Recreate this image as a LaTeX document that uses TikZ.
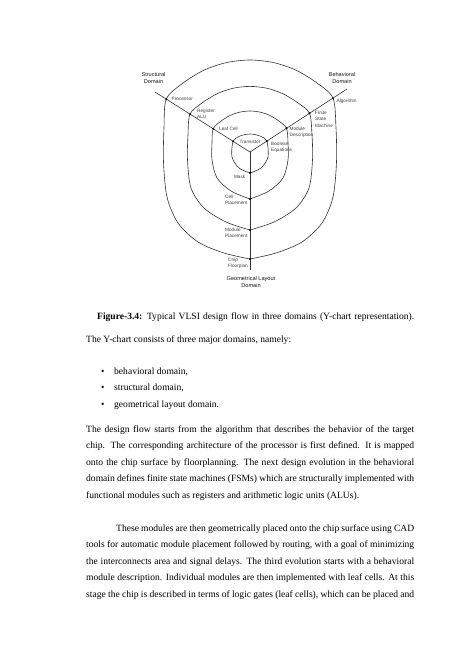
\documentclass[tikz,border=0pt]{standalone}
\usepackage{fontspec}
\setmainfont{Liberation Serif}
\setsansfont{Liberation Sans}
\begin{document}
\begin{tikzpicture}[x=1pt,y=-1pt,
  ring/.style={draw=black!80, line width=0.6pt},
  axisline/.style={draw=black!80, line width=0.6pt},
  dotnode/.style={circle, fill=black, inner sep=0pt, minimum size=2.2pt},
  lbl/.style={font=\fontsize{4.7}{6.2}\selectfont\sffamily, text=black!75, inner sep=0pt, align=left},
  dom/.style={font=\fontsize{5.6}{6.8}\selectfont\sffamily, text=black!90, inner sep=0pt, align=center},
  body/.style={font=\fontsize{9.56}{16.5}\selectfont, anchor=base west, inner sep=0pt}
]
\useasboundingbox[fill=white] (0,0) rectangle (474,670);

% axes
\coordinate (J) at (250,152);
\coordinate (Se) at (155,92);
\coordinate (Be) at (347,89);
\coordinate (Ge) at (250,270);
\draw[axisline] (J) -- (Se);
\draw[axisline] (J) -- (Be);
\draw[axisline] (J) -- (Ge);

% rings
\draw[ring] plot[smooth] coordinates {(250,259) (224,253) (198,242) (178,223) (167,197) (163.5,162) (164,128) (166.3,99.1) (182.9,83.1) (203.9,70.2) (226.4,62.6) (250,60) (273.6,62.6) (296.1,70.2) (317.1,83.1) (333,98.1) (336,128) (336.5,162) (333,197) (322,223) (302,242) (276,253) (250,259)};
\draw[ring] plot[smooth] coordinates {(250,230) (226,222) (204,208) (191,188) (187.5,160) (188,135) (190,114.1) (202.2,102.8) (217.2,93.7) (233.2,88.2) (250,86.4) (266.8,88.2) (282.8,93.7) (297.8,102.8) (309.5,113.3) (312,135) (312.5,160) (309,188) (296,208) (274,222) (250,230)};
\draw[ring] plot[smooth] coordinates {(250,199) (231,191) (217,178) (212,160) (212,143) (213.2,128.8) (221.4,120.8) (230.4,115.3) (240,112.1) (250,111) (260,112.1) (269.6,115.3) (278.6,120.8) (286.5,128.3) (288,143) (288,160) (283,178) (269,191) (250,199)};
\draw[ring] plot[smooth] coordinates {(250,173) (239,168) (232,157) (233.1,141.3) (240,136) (250,134) (260,136) (266.8,141.1) (268,157) (261,168) (250,173)};

% dots
\node[dotnode] (S1) at (233.1,141.3) {};
\node[dotnode] (S2) at (213.2,128.8) {};
\node[dotnode] (S3) at (190.0,114.1) {};
\node[dotnode] (S4) at (166.3,99.1) {};
\node[dotnode] (B1) at (266.8,141.1) {};
\node[dotnode] (B2) at (286.5,128.3) {};
\node[dotnode] (B3) at (309.5,113.3) {};
\node[dotnode] (B4) at (333.0,98.1) {};
\node[dotnode] (G1) at (250,173) {};
\node[dotnode] (G2) at (250,199) {};
\node[dotnode] (G3) at (250,230) {};
\node[dotnode] (G4) at (250,259) {};

% labels
\node[lbl, anchor=base west] (tProc) at (171.5,100) {Processor};
\node[lbl, anchor=north west] (tReg) at (197,108.5) {Register\\ALU};
\node[lbl, anchor=base west] (tLeaf) at (219,130.5) {Leaf Cell};
\node[lbl, anchor=base west] (tTran) at (239.5,143.5) {Transistor};
\node[lbl, anchor=north west] (tBool) at (271,141.5) {Boolean\\Equations};
\node[lbl, anchor=north west] (tModD) at (289.5,127) {Module\\Description};
\node[lbl, anchor=north west] (tFSM) at (315,111) {Finite\\State\\Machine};
\node[lbl, anchor=base west] (tAlg) at (336.5,102.5) {Algorithm};
\node[lbl, anchor=base east] (tMask) at (245.5,178.5) {Mask};
\node[lbl, anchor=north west] (tCell) at (225,194.5) {Cell\\Placement};
\node[lbl, anchor=north west] (tModP) at (225,228) {Module\\Placement};
\node[lbl, anchor=north west] (tChip) at (228,258) {Chip\\Floorplan};

\node[dom] (dS) at (153.5,78) {Structural\\Domain};
\node[dom] (dB) at (342,78) {Behavioral\\Domain};
\node[dom] (dG) at (251,282) {Geometrical Layout\\Domain};

% text
\node[body] (cap) at (97,319) {\makebox[317pt][s]{\textbf{Figure-3.4:} Typical VLSI design flow in three domains (Y-chart representation).}};
\node[body] (intro) at (86,342) {The Y-chart consists of three major domains, namely:};
\node[body] (bd1) at (101,374) {\textbullet};
\node[body] (bt1) at (114,374) {behavioral domain,};
\node[body] (bd2) at (101,390.5) {\textbullet};
\node[body] (bt2) at (114,390.5) {structural domain,};
\node[body] (bd3) at (101,407) {\textbullet};
\node[body] (bt3) at (114,407) {geometrical layout domain.};

\node[body] (p1a) at (86,432) {\makebox[328pt][s]{The design flow starts from the algorithm that describes the behavior of the target}};
\node[body] (p1b) at (86,448.5) {\makebox[328pt][s]{chip. The corresponding architecture of the processor is first defined. It is mapped}};
\node[body] (p1c) at (86,465) {\makebox[328pt][s]{onto the chip surface by floorplanning. The next design evolution in the behavioral}};
\node[body] (p1d) at (86,481.5) {\makebox[328pt][s]{domain defines finite state machines (FSMs) which are structurally implemented with}};
\node[body] (p1e) at (86,498) {functional modules such as registers and arithmetic logic units (ALUs).};

\node[body] (p2a) at (116,531) {\makebox[298pt][s]{These modules are then geometrically placed onto the chip surface using CAD}};
\node[body] (p2b) at (86,547.5) {\makebox[328pt][s]{tools for automatic module placement followed by routing, with a goal of minimizing}};
\node[body] (p2c) at (86,564) {\makebox[328pt][s]{the interconnects area and signal delays. The third evolution starts with a behavioral}};
\node[body] (p2d) at (86,580.5) {\makebox[328pt][s]{module description. Individual modules are then implemented with leaf cells. At this}};
\node[body] (p2e) at (86,597) {\makebox[328pt][s]{stage the chip is described in terms of logic gates (leaf cells), which can be placed and}};
\end{tikzpicture}
\end{document}
